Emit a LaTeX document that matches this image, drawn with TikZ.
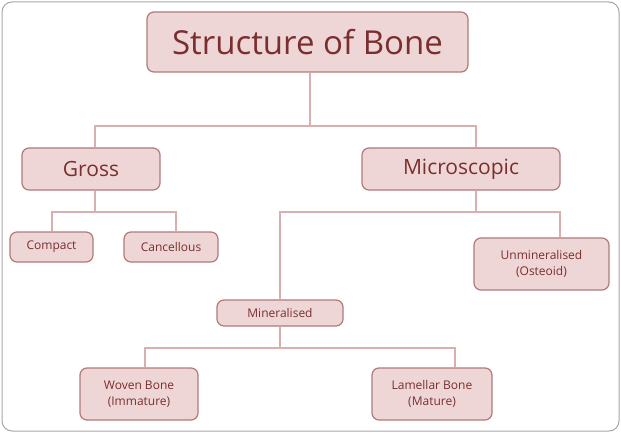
\documentclass[tikz,border=0pt]{standalone}
\usepackage{fontspec}
\setmainfont{Open Sans}
\definecolor{boxfill}{HTML}{EFD6D6}
\definecolor{boxline}{HTML}{B07A7A}
\definecolor{conn}{HTML}{D9AFAF}
\definecolor{txt}{HTML}{7A2E2E}
\begin{document}
\begin{tikzpicture}[x=1pt,y=-1pt,
  bx/.style={draw=boxline,line width=1.2pt,fill=boxfill,rounded corners=7pt,text=txt,align=center,inner sep=0pt},
  cn/.style={draw=conn,line width=1.4pt}]
\useasboundingbox (0,0) rectangle (621,433);
\draw[draw=gray!70,line width=1pt,rounded corners=10pt] (2,2) rectangle (619,431);
\node[bx,minimum width=321pt,minimum height=60pt,font=\fontsize{33}{36}\selectfont] (root) at (307.5,42) {Structure of Bone};
\node[bx,minimum width=138pt,minimum height=42pt,font=\fontsize{21}{24}\selectfont] (gross) at (91,169) {Gross};
\node[bx,minimum width=198pt,minimum height=42pt,font=\fontsize{21}{24}\selectfont] (micro) at (461,169) {Microscopic};
\node[bx,minimum width=83pt,minimum height=30pt,font=\fontsize{12}{14}\selectfont] (compact) at (51.5,247) {Compact};
\node[bx,minimum width=94pt,minimum height=30pt,font=\fontsize{12}{14}\selectfont] (canc) at (171,247) {Cancellous};
\node[bx,minimum width=135pt,minimum height=52pt,font=\fontsize{12}{16}\selectfont] (unmin) at (541.5,264) {Unmineralised\\(Osteoid)};
\node[bx,minimum width=126pt,minimum height=26pt,font=\fontsize{12}{14}\selectfont] (min) at (280,313) {Mineralised};
\node[bx,minimum width=118pt,minimum height=52pt,font=\fontsize{12}{16}\selectfont] (woven) at (139,394) {Woven Bone\\(Immature)};
\node[bx,minimum width=120pt,minimum height=52pt,font=\fontsize{12}{16}\selectfont] (lam) at (432,394) {Lamellar Bone\\(Mature)};
\coordinate (r1) at (310,126);
\coordinate (g1) at (95,212);
\coordinate (m1) at (476,212);
\coordinate (n1) at (280,348);
\draw[cn] (root.south -| r1) -- (r1);
\draw[cn] (gross.north -| 95,0) -- (95,126) -- (476,126) -- (micro.north -| 476,0);
\draw[cn] (gross.south -| g1) -- (g1);
\draw[cn] (compact.north -| 52,0) -- (52,212) -- (176,212) -- (canc.north -| 176,0);
\draw[cn] (micro.south -| m1) -- (m1);
\draw[cn] (min.north) -- (280,212) -- (560,212) -- (unmin.north -| 560,0);
\draw[cn] (min.south) -- (n1);
\draw[cn] (woven.north -| 145,0) -- (145,348) -- (455,348) -- (lam.north -| 455,0);
\end{tikzpicture}
\end{document}
